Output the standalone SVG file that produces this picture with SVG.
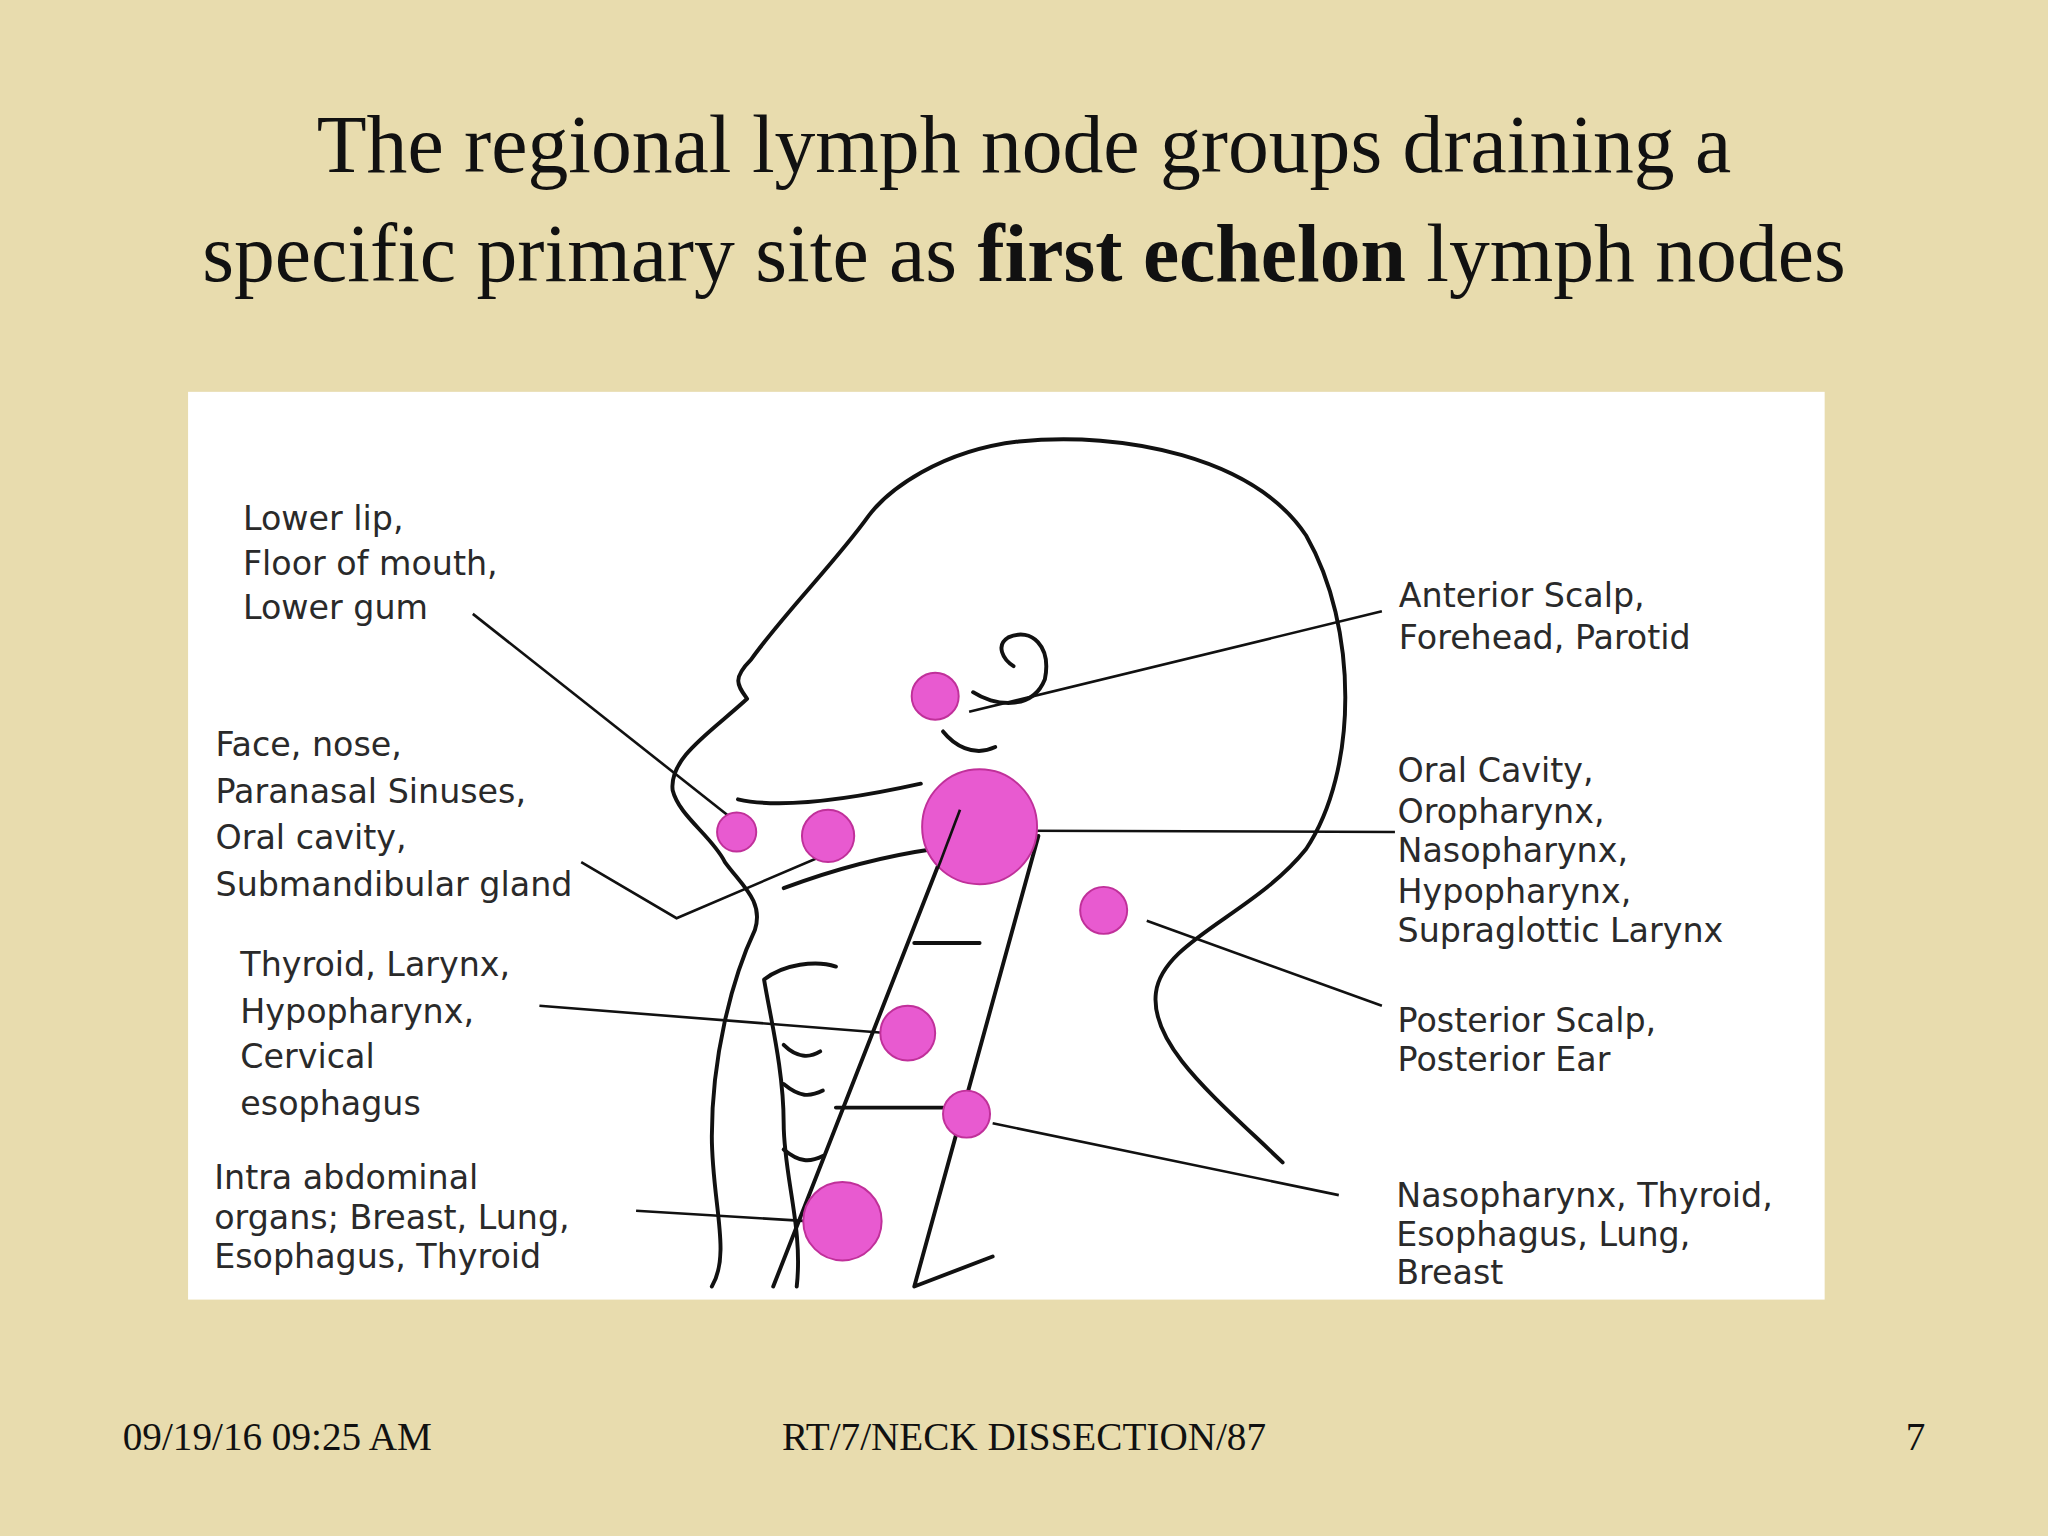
<svg xmlns="http://www.w3.org/2000/svg" width="2048" height="1536" viewBox="0 0 2048 1536">
<style>
.t{font-family:"Liberation Serif",serif;fill:#111}
.l{font-family:"DejaVu Sans",Verdana,sans-serif;font-size:25.5px;fill:#2a2a2a}
.o{fill:none;stroke:#111;stroke-width:3;stroke-linecap:round;stroke-linejoin:round}
.c{stroke:#111;stroke-width:2}
.n{fill:#e85ad0;stroke:#c0309a;stroke-width:1.5}
</style>
<rect width="2048" height="1536" fill="#e8dcae"/>
<g transform="scale(1.30612)">
<text class="t" x="784" y="132" font-size="62.5" text-anchor="middle">The regional lymph node groups draining a</text>
<text class="t" x="784" y="215" font-size="62.5" text-anchor="middle">specific primary site as <tspan font-weight="bold">first echelon</tspan> lymph nodes</text>
<rect x="144" y="300" width="1253" height="695" fill="#fff"/>
<g id="outline">
<path class="o" d="M982,890 C930,840 880,800 885,760 C890,720 960,700 1000,650 C1040,590 1040,480 1000,410 C960,350 860,330 780,338 C720,345 680,375 665,395 C640,430 600,470 575,505 C560,520 565,525 572,535 C545,560 512,580 515,605 C520,625 545,640 555,660 C568,678 585,690 578,712 C560,750 545,810 545,870 C545,920 560,960 545,985"/>
<path class="o" d="M745,530 C760,540 790,545 800,520 C805,495 790,480 772,488 C762,494 768,505 776,510"/>
<path class="o" d="M722,560 C730,570 745,580 762,572"/>
<path class="o" d="M565,612 C600,620 660,610 705,600"/>
<path class="o" d="M600,680 C640,665 680,655 715,650"/>
<path class="o" d="M735,620 L592,985 M795,640 L700,985 L760,962"/>
<path class="o" d="M700,722 L750,722 M640,848 L722,848"/>
<path class="o" d="M610,985 C615,940 600,900 600,860 C600,820 590,780 585,750 C600,738 625,735 640,740"/>
<path class="o" d="M600,800 C610,810 620,810 628,805 M600,830 C612,840 620,840 630,835 M600,880 C612,890 620,890 630,885"/>
</g>
<g id="connectors">
<line class="c" x1="362" y1="470" x2="562" y2="628"/>
<polyline class="c" fill="none" points="445,660 518,703 642,650"/>
<line class="c" x1="413" y1="770" x2="705" y2="793"/>
<line class="c" x1="487" y1="927" x2="668" y2="938"/>
<line class="c" x1="1058" y1="468" x2="742" y2="545"/>
<line class="c" x1="1068" y1="637" x2="785" y2="636"/>
<line class="c" x1="1058" y1="770" x2="878" y2="705"/>
<line class="c" x1="1025" y1="915" x2="760" y2="860"/>
</g>
<g id="n1"><circle class="n" cx="716" cy="533" r="18"/></g>
<g id="n2"><circle class="n" cx="564" cy="637" r="15"/></g>
<g id="n3"><circle class="n" cx="634" cy="640" r="20"/></g>
<g id="n4"><circle class="n" cx="750" cy="633" r="44"/></g>
<g id="n5"><circle class="n" cx="845" cy="697" r="18"/></g>
<g id="n6"><circle class="n" cx="695" cy="791" r="21"/></g>
<g id="n7"><circle class="n" cx="740" cy="853" r="18"/></g>
<g id="n8"><circle class="n" cx="645" cy="935" r="30"/></g>
<line class="c" x1="735" y1="620" x2="718" y2="665"/>
<g id="labels">
<text class="l" x="186" y="406">Lower lip,</text>
<text class="l" x="186" y="440">Floor of mouth,</text>
<text class="l" x="186" y="474">Lower gum</text>
<text class="l" x="165" y="579">Face, nose,</text>
<text class="l" x="165" y="615">Paranasal Sinuses,</text>
<text class="l" x="165" y="650">Oral cavity,</text>
<text class="l" x="165" y="686">Submandibular gland</text>
<text class="l" x="184" y="747">Thyroid, Larynx,</text>
<text class="l" x="184" y="783">Hypopharynx,</text>
<text class="l" x="184" y="818">Cervical</text>
<text class="l" x="184" y="854">esophagus</text>
<text class="l" x="164" y="910">Intra abdominal</text>
<text class="l" x="164" y="941">organs; Breast, Lung,</text>
<text class="l" x="164" y="971">Esophagus, Thyroid</text>
<text class="l" x="1071" y="465" font-size="27.5">Anterior Scalp,</text>
<text class="l" x="1071" y="497" font-size="27.5">Forehead, Parotid</text>
<text class="l" x="1070" y="599">Oral Cavity,</text>
<text class="l" x="1070" y="630">Oropharynx,</text>
<text class="l" x="1070" y="660">Nasopharynx,</text>
<text class="l" x="1070" y="691">Hypopharynx,</text>
<text class="l" x="1070" y="721">Supraglottic Larynx</text>
<text class="l" x="1070" y="790">Posterior Scalp,</text>
<text class="l" x="1070" y="820">Posterior Ear</text>
<text class="l" x="1069" y="924">Nasopharynx, Thyroid,</text>
<text class="l" x="1069" y="954">Esophagus, Lung,</text>
<text class="l" x="1069" y="983">Breast</text>
</g>
<text class="t" x="94" y="1110" font-size="30">09/19/16 09:25 AM</text>
<text class="t" x="784" y="1110" font-size="30" text-anchor="middle">RT/7/NECK DISSECTION/87</text>
<text class="t" x="1474" y="1110" font-size="30" text-anchor="end">7</text>
</g>
</svg>
